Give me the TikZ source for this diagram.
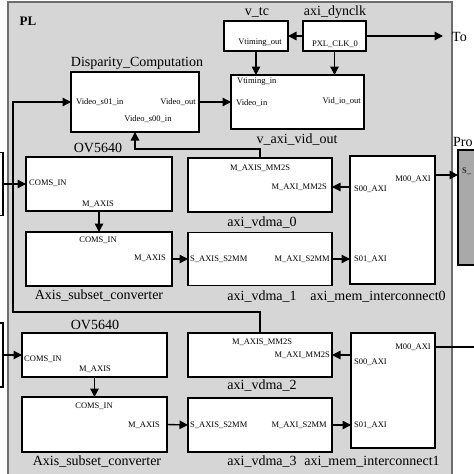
\documentclass[tikz,border=0pt]{standalone}
\usepackage{fontspec}
\setmainfont{Liberation Serif}
\usetikzlibrary{arrows.meta}
\definecolor{plgray}{HTML}{D6D6D6}
\definecolor{plline}{HTML}{6E6E6E}
\definecolor{progray}{HTML}{A9A9A9}
\begin{document}
\begin{tikzpicture}[x=1pt,y=-1pt,
  blk/.style={draw=black, fill=white, line width=1.3pt, inner sep=0pt, outer sep=0pt},
  wire/.style={line width=1.4pt},
  arr/.style={wire, -{Triangle[length=8.5pt,width=8.5pt]}},
  port/.style={font=\fontsize{8.5}{9}\selectfont, inner sep=0pt},
  ttl/.style={font=\fontsize{14}{15}\selectfont, inner sep=0pt},
]
\clip (0,0) rectangle (474,474);
\fill[white] (0,0) rectangle (474,474);
% PL region
\draw[draw=plline, fill=plgray, line width=1.6pt] (8,2) rectangle (452,490);
\node[font=\fontsize{13}{14}\selectfont\bfseries, inner sep=0pt] (pl) at (28,21) {PL};

% external boxes
\node[blk, minimum width=26, minimum height=63] (ext1) at (-10,184) {};
\node[blk, minimum width=26, minimum height=64] (ext2) at (-10,355) {};
\node[draw=black, fill=progray, line width=1.3pt, minimum width=40, minimum height=115, inner sep=0pt, outer sep=0pt] (pro) at (478,207.5) {};
\node[ttl, anchor=west] (protxt) at (453,142) {Pro};
\node[port, anchor=west] (prop) at (462,171) {S\_};

% top blocks
\node[blk, minimum width=64, minimum height=30] (vtc) at (256,36) {};
\node[ttl] (vtcl) at (257,12) {v\_tc};
\node[port] (vtcp) at (260,43) {Vtiming\_out};

\node[blk, minimum width=63, minimum height=30] (dyn) at (334.5,36) {};
\node[ttl] (dynl) at (335,12) {axi\_dynclk};
\node[port] (dynp) at (335,44) {PXL\_CLK\_0};

\node[blk, minimum width=133, minimum height=54] (vid) at (297.5,102) {};
\node[ttl] (vidl) at (297,140) {v\_axi\_vid\_out};
\node[port, anchor=west] (vidp1) at (237,82) {Vtiming\_in};
\node[port, anchor=west] (vidp2) at (236,103) {Video\_in};
\node[port, anchor=east] (vidp3) at (361,101) {Vid\_io\_out};

\node[blk, minimum width=128, minimum height=60] (disp) at (135,102) {};
\node[ttl] (displ) at (137,63) {Disparity\_Computation};
\node[port, anchor=west] (dispp1) at (76,102) {Video\_s01\_in};
\node[port, anchor=east] (dispp2) at (196,102) {Video\_out};
\node[port] (dispp3) at (148,119) {Video\_s00\_in};

\coordinate (hdmi) at (443,36);
\node[ttl, anchor=west] (hdmit) at (452,37) {To};

% upper chain
\node[blk, minimum width=146, minimum height=54] (ov1) at (99,184) {};
\node[ttl] (ov1l) at (98,148) {OV5640};
\node[port, anchor=west] (ov1p1) at (29,183) {COMS\_IN};
\node[port] (ov1p2) at (98,204) {M\_AXIS};

\node[blk, minimum width=146, minimum height=54] (asc1) at (99,259) {};
\node[ttl] (asc1l) at (99,296) {Axis\_subset\_converter};
\node[port] (asc1p1) at (98,240) {COMS\_IN};
\node[port, anchor=east] (asc1p2) at (166,258) {M\_AXIS};

\node[blk, minimum width=144, minimum height=54] (vd0) at (260,185) {};
\node[ttl] (vd0l) at (262,223) {axi\_vdma\_0};
\node[port] (vd0p1) at (260,168) {M\_AXIS\_MM2S};
\node[port, anchor=east] (vd0p2) at (327,187) {M\_AXI\_MM2S};

\node[blk, minimum width=144, minimum height=53] (vd1) at (260,259) {};
\node[ttl] (vd1l) at (262,297) {axi\_vdma\_1};
\node[port, anchor=west] (vd1p1) at (190,259) {S\_AXIS\_S2MM};
\node[port, anchor=east] (vd1p2) at (330,259) {M\_AXI\_S2MM};

\node[blk, minimum width=85, minimum height=128] (ic0) at (392.5,220) {};
\node[ttl] (ic0l) at (378,297) {axi\_mem\_interconnect0};
\node[port, anchor=east] (ic0p1) at (431,179) {M00\_AXI};
\node[port, anchor=west] (ic0p2) at (354,189) {S00\_AXI};
\node[port, anchor=west] (ic0p3) at (354,259) {S01\_AXI};

% lower chain
\node[blk, minimum width=145, minimum height=44] (ov2) at (94.5,355) {};
\node[ttl] (ov2l) at (95,325) {OV5640};
\node[port, anchor=west] (ov2p1) at (24,359) {COMS\_IN};
\node[port] (ov2p2) at (95,369) {M\_AXIS};

\node[blk, minimum width=145, minimum height=55] (asc2) at (94.5,424.5) {};
\node[ttl] (asc2l) at (97,462) {Axis\_subset\_converter};
\node[port] (asc2p1) at (94,406) {COMS\_IN};
\node[port, anchor=east] (asc2p2) at (160,425) {M\_AXIS};

\node[blk, minimum width=144, minimum height=44] (vd2) at (260,355) {};
\node[ttl] (vd2l) at (262,386) {axi\_vdma\_2};
\node[port] (vd2p1) at (262,342) {M\_AXIS\_MM2S};
\node[port, anchor=east] (vd2p2) at (330,355) {M\_AXI\_MM2S};

\node[blk, minimum width=144, minimum height=54] (vd3) at (260,425) {};
\node[ttl] (vd3l) at (262,462) {axi\_vdma\_3};
\node[port, anchor=west] (vd3p1) at (190,425) {S\_AXIS\_S2MM};
\node[port, anchor=east] (vd3p2) at (327,425) {M\_AXI\_S2MM};

\node[blk, minimum width=84, minimum height=115] (ic1) at (393,390.5) {};
\node[ttl] (ic1l) at (372,462) {axi\_mem\_interconnect1};
\node[port, anchor=east] (ic1p1) at (431,347) {M00\_AXI};
\node[port, anchor=west] (ic1p2) at (354,362) {S00\_AXI};
\node[port, anchor=west] (ic1p3) at (354,425) {S01\_AXI};

% routing coordinates
\coordinate (j1) at (135,149);
\coordinate (j2) at (13,312);
\coordinate (m0) at (0,175);
\coordinate (m1) at (0,347);
\coordinate (out1) at (480,347);

% connectors
\draw[arr] (dyn.west) -- (vtc.east);
\draw[arr] (dyn.east) -- (hdmi);
\draw[arr] (vtc.south) -- (vtc.south |- vid.north);
\draw[arr] (dyn.south) -- (dyn.south |- vid.north);
\draw[arr] (disp.east) -- (vid.west);
\draw[arr] (vd0.north) |- (j1) -- (disp.south);
\draw[arr] (vd2.north) |- (j2) |- (disp.west);
\draw[arr] (ext1.east) -- (ov1.west);
\draw[arr] (ov1.south) -- (asc1.north);
\draw[arr] (asc1.east) -- (vd1.west);
\draw[arr] (ic0.west |- vd0p2) -- (vd0.east |- vd0p2);
\draw[arr] (vd1.east) -- (ic0.west |- vd1.east);
\draw[arr] (ic0.east |- m0) -- (pro.west |- m0);
\draw[arr] (ext2.east) -- (ov2.west);
\draw[arr] (ov2.south) -- (asc2.north);
\draw[arr] (asc2.east) -- (vd3.west);
\draw[arr] (ic1.west |- vd2.east) -- (vd2.east);
\draw[arr] (vd3.east) -- (ic1.west |- vd3.east);
\draw[wire] (ic1.east |- m1) -- (out1);
\end{tikzpicture}
\end{document}
